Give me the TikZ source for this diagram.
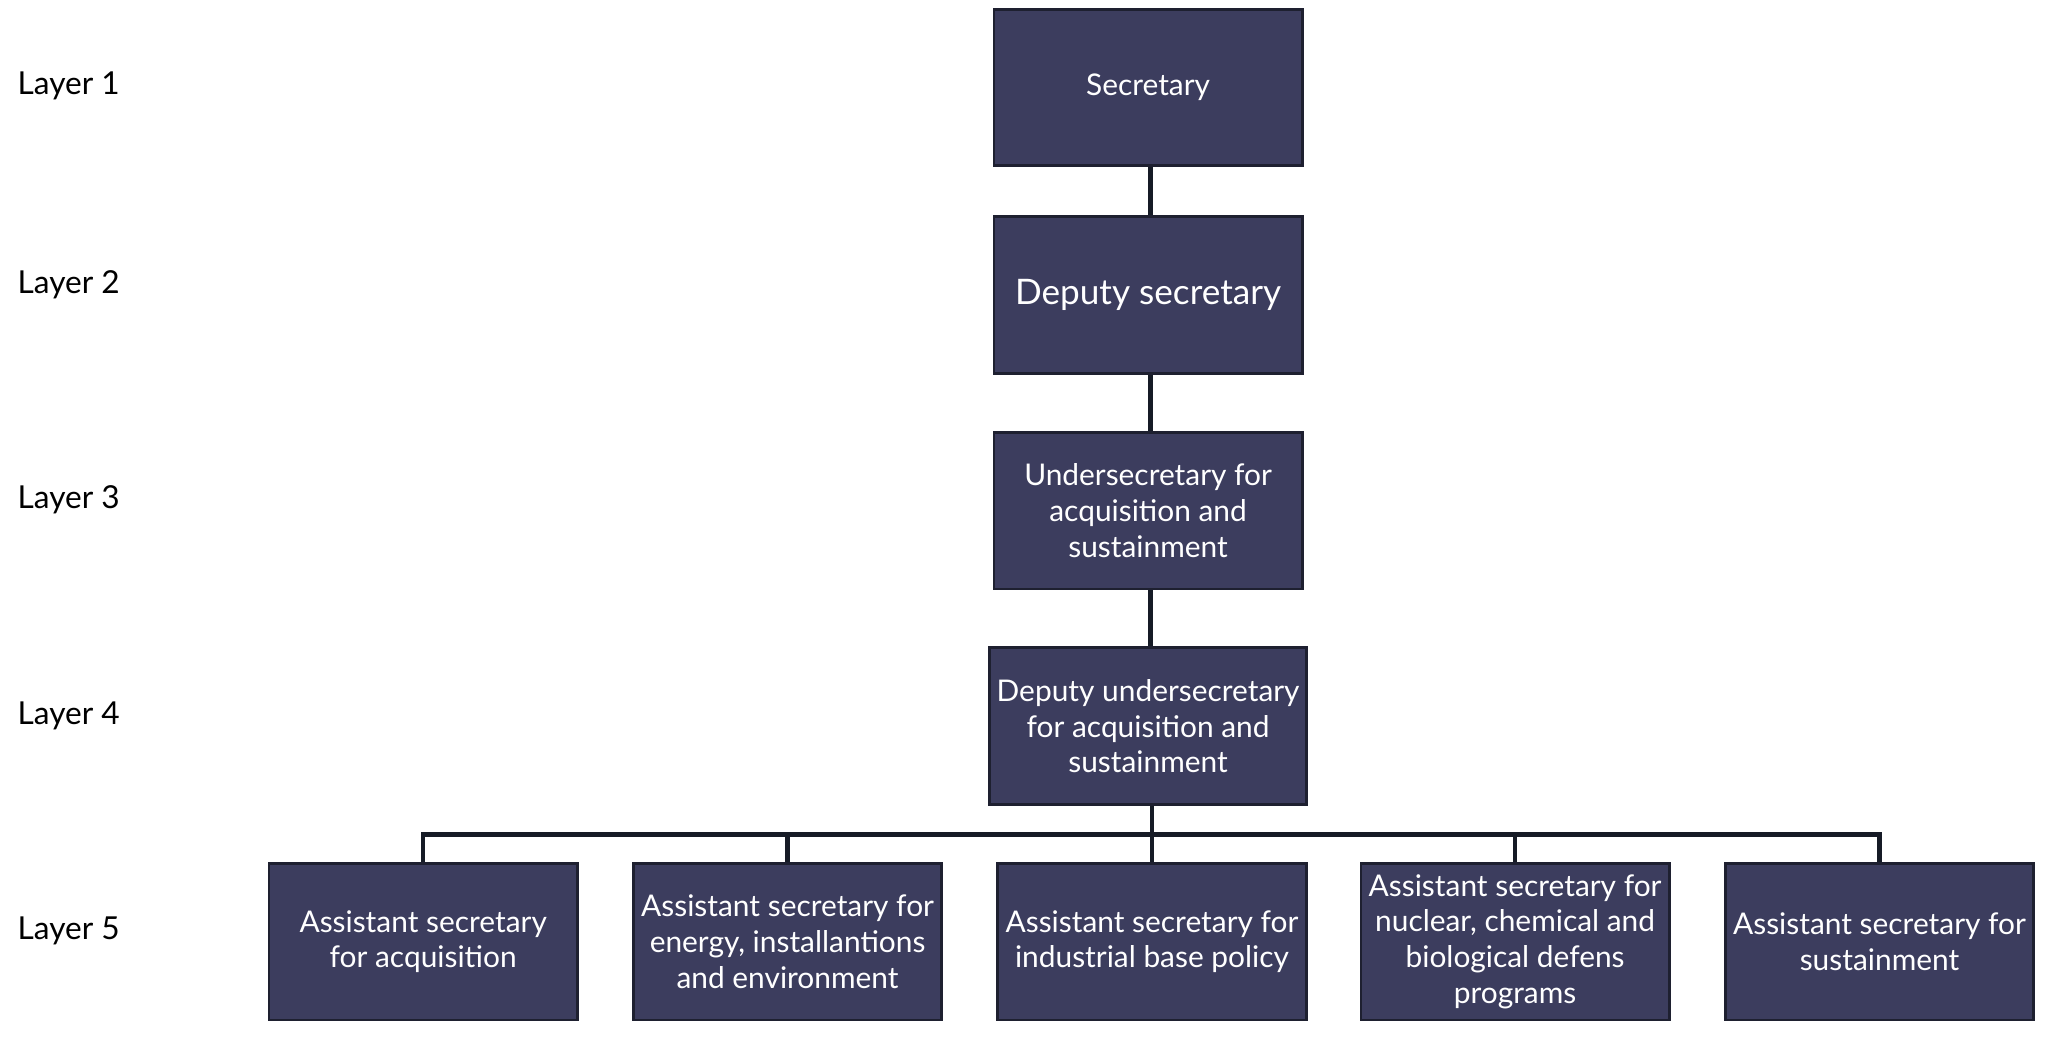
\documentclass[tikz,border=0pt]{standalone}
\usepackage{fontspec}
\setmainfont{Lato}
\usetikzlibrary{positioning}
\definecolor{boxfill}{HTML}{3C3D5E}
\definecolor{boxline}{HTML}{1E2030}
\definecolor{linkcol}{HTML}{161B26}
\begin{document}
\begin{tikzpicture}[x=0.01306cm, y=-0.01306cm]
    \tikzstyle{format} = [draw=boxline, fill=boxfill, text=white, thick, minimum width=236*0.01306cm, minimum height=120*0.01306cm, inner sep=2pt, align=center, font=\fontsize{8.5}{10.2}\selectfont]
    \tikzstyle{layer} = [anchor=west, font=\fontsize{9}{11}\selectfont]
    \tikzstyle{link} = [draw=linkcol, line width=1.3pt]

    \useasboundingbox (0,0) rectangle (1568,800);

    % layer labels
    \node[layer] (l1) at (4,66) {Layer 1};
    \node[layer] (l2) at (4,218) {Layer 2};
    \node[layer] (l3) at (4,383) {Layer 3};
    \node[layer] (l4) at (4,548) {Layer 4};
    \node[layer] (l5) at (4,713) {Layer 5};

    % chain
    \node[format] (sec) at (879,67) {Secretary};
    \node[format, font=\fontsize{10}{12}\selectfont] (dep) at (879,226) {Deputy secretary};
    \node[format] (usec) at (879,391) {Undersecretary for\\acquisition and\\sustainment};
    \node[format] (dusec) at (879,556) {Deputy undersecretary\\for acquisition and\\sustainment};

    % assistants
    \node[format] (acq) at (324,721) {Assistant secretary\\for acquisition};
    \node[format] (ene) at (603,721) {Assistant secretary for\\energy, installantions\\and environment};
    \node[format] (ind) at (882,721) {Assistant secretary for\\industrial base policy};
    \node[format] (ncb) at (1160,721) {Assistant secretary for\\nuclear, chemical and\\biological defens\\programs};
    \node[format] (sus) at (1439,721) {Assistant secretary for\\sustainment};

    \coordinate (bus) at (882,639);

    \path[link] (sec.south -| 881,0) -- (dep.north -| 881,0)
        (dep.south -| 881,0) -- (usec.north -| 881,0)
        (usec.south -| 881,0) -- (dusec.north -| 881,0)
        (dusec.south -| bus) -- (bus)
        (acq.north) |- (bus) -| (sus.north);
    \foreach \n in {ene, ind, ncb}
        \draw[link] (\n.north) -- (\n.north |- bus);
\end{tikzpicture}
\end{document}
